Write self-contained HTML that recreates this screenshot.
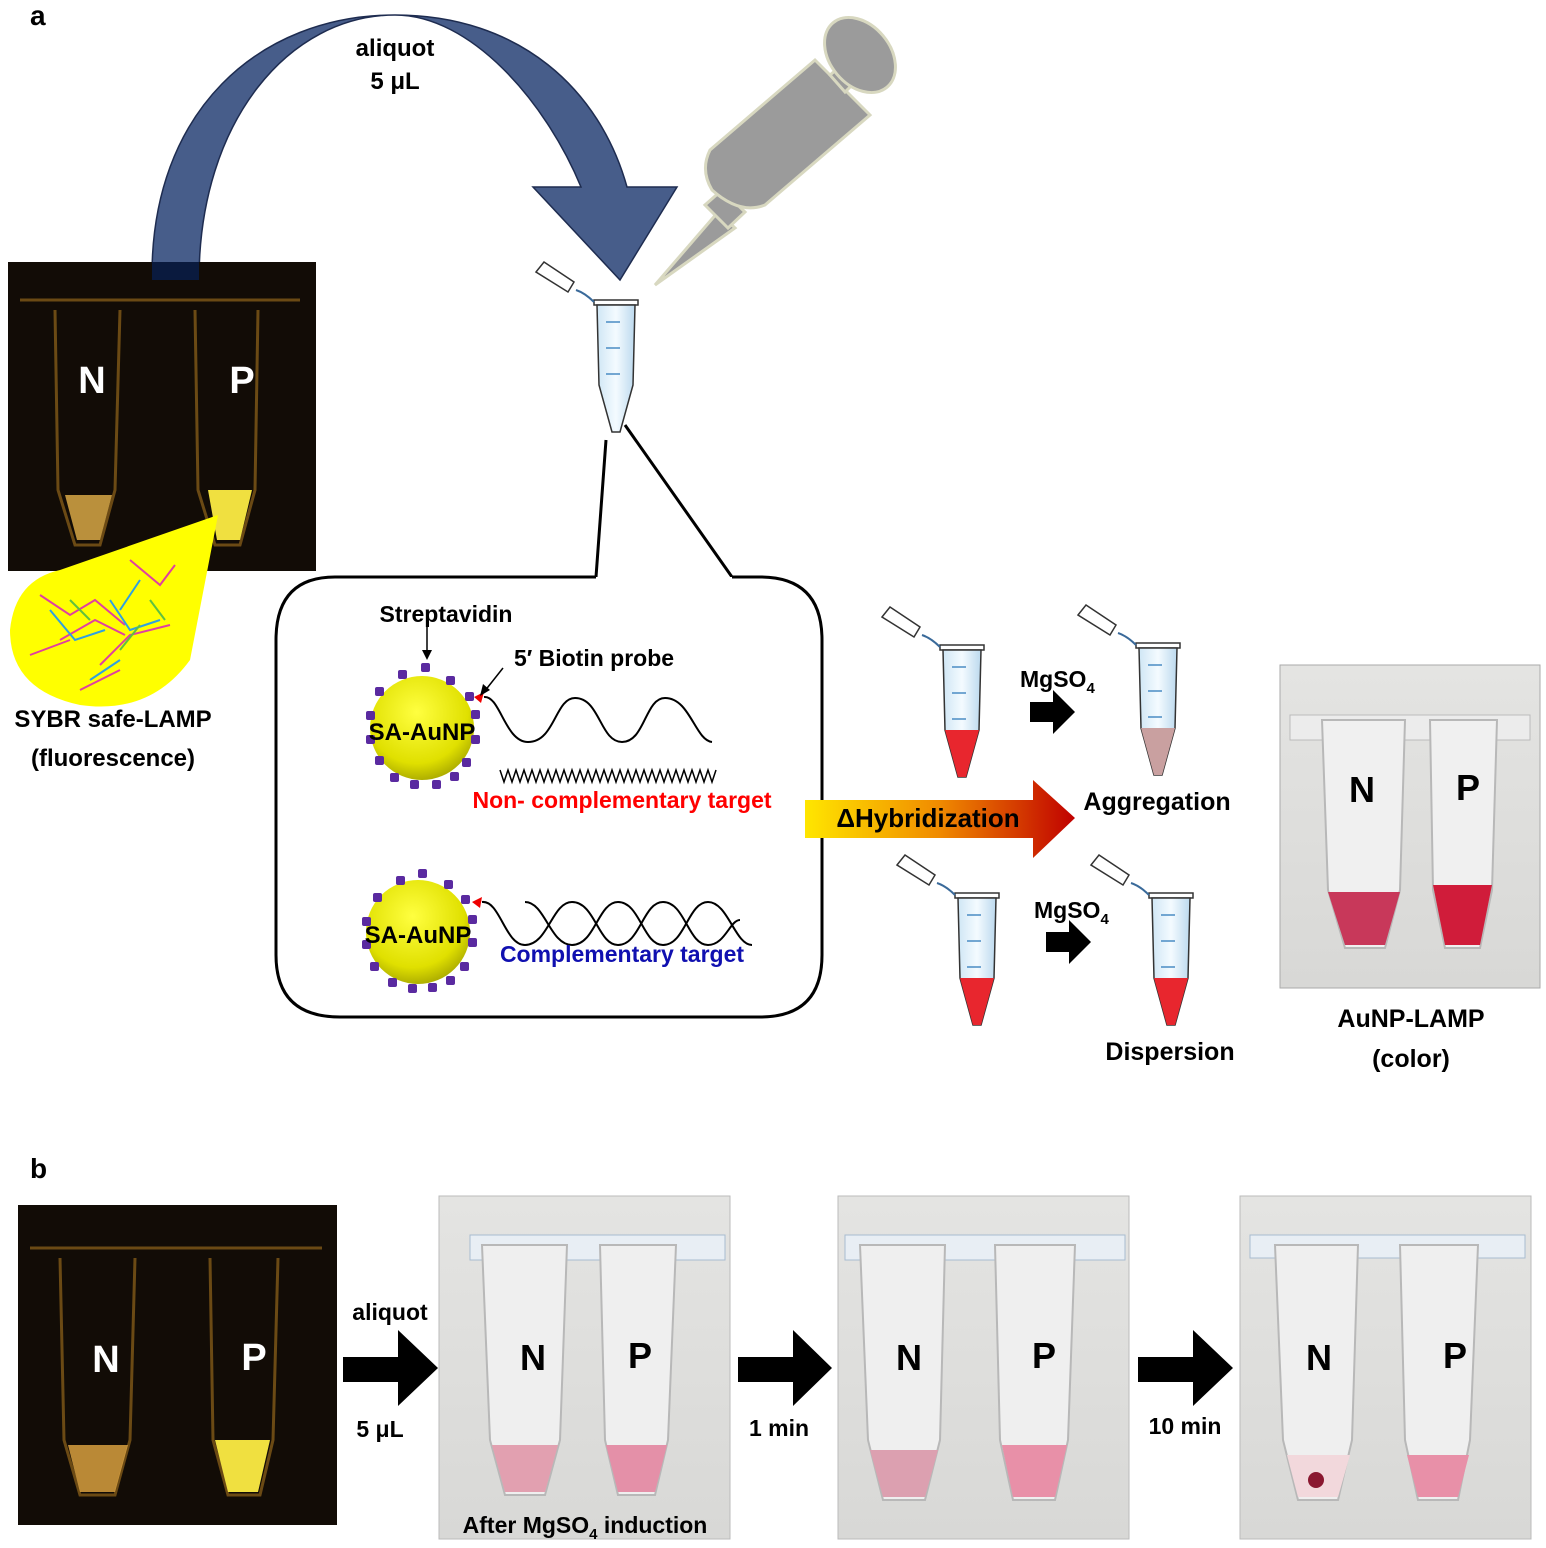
<!DOCTYPE html>
<html><head><meta charset="utf-8"><style>
body{margin:0;background:#fff}
svg{display:block;font-family:"Liberation Sans","DejaVu Sans",sans-serif;font-weight:bold}
</style></head><body>
<svg width="1546" height="1548" viewBox="0 0 1546 1548" xmlns="http://www.w3.org/2000/svg">
<defs>
<linearGradient id="hyb" x1="0" x2="1"><stop offset="0" stop-color="#ffe600"/><stop offset="0.5" stop-color="#f08a00"/><stop offset="1" stop-color="#c00000"/></linearGradient>
<radialGradient id="au" cx="0.45" cy="0.35" r="0.7"><stop offset="0" stop-color="#ffff40"/><stop offset="0.7" stop-color="#e0e000"/><stop offset="1" stop-color="#a0a000"/></radialGradient>
<linearGradient id="tb" x1="0" x2="1"><stop offset="0" stop-color="#cfe6f5"/><stop offset="0.5" stop-color="#f4fbff"/><stop offset="1" stop-color="#bcd9ee"/></linearGradient>
<linearGradient id="ph" x1="0" y1="0" x2="0" y2="1"><stop offset="0" stop-color="#e4e4e2"/><stop offset="1" stop-color="#d8d8d6"/></linearGradient>
<g id="tube">
<path d="M-2,0 L42,0 L42,5 L-2,5 Z" fill="#fff" stroke="#333" stroke-width="1.5"/>
<path d="M1,5 L39,5 L37,85 L24,132 L16,132 L3,85 Z" fill="url(#tb)" stroke="#333" stroke-width="1.5"/>
<path d="M10,22 h14 M10,48 h14 M10,74 h14" stroke="#4a8cc4" stroke-width="1.5"/>
<path d="M-2,2 C-8,-4 -14,-8 -20,-10" stroke="#3a6a9a" stroke-width="2" fill="none"/>
<path d="M-60,-28 L-52,-38 L-22,-18 L-28,-8 Z" fill="#fff" stroke="#333" stroke-width="1.5"/>
</g>
<g id="redtube">
<use href="#tube"/>
<path d="M3,85 L37,85 L24,132 L16,132 Z" fill="#e8262e"/>
</g>
</defs>

<text x="30" y="25" font-size="28">a</text>

<!-- curved arrow -->
<path d="M152,280 C150,110 260,15 395,15 C520,15 600,90 627,187 L677,187 L620,280 L533,187 L581,187 C545,100 470,15 395,15 C290,15 199,120 199,280 Z" fill="#475d8a" stroke="#1e2c50" stroke-width="1.5"/>
<text x="395" y="56" font-size="24" text-anchor="middle">aliquot</text>
<text x="395" y="89" font-size="24" text-anchor="middle">5 μL</text>

<!-- syringe -->
<g fill="#9b9b9b" stroke="#d8d8c0" stroke-width="3">
<path d="M655,285 L718,212 L735,228 Z"/>
<path d="M705,205 L728,228 L745,212 L722,190 Z"/>
<path d="M710,150 L815,60 L870,115 L765,205 Q740,215 712,190 Q700,170 710,150 Z"/>
<path d="M830,75 L848,60 L862,75 L845,92 Z"/>
<ellipse cx="860" cy="55" rx="30" ry="42" transform="rotate(-40 860 55)"/>
</g>

<!-- small tube -->
<g transform="translate(596,300)"><use href="#tube"/></g>

<!-- callout lines -->
<path d="M606,440 L596,577 M625,425 L732,577" stroke="#000" stroke-width="3" fill="none"/>
<path d="M596,577 L335,577 Q276,577 276,640 L276,955 Q276,1017 340,1017 L760,1017 Q822,1017 822,955 L822,640 Q822,577 760,577 L732,577" stroke="#000" stroke-width="3" fill="#fff"/>

<!-- dark photo -->
<rect x="8" y="262" width="308" height="309" fill="#120c06"/>
<rect x="152" y="262" width="47" height="18" fill="#0a1a3e"/>
<g fill="none" stroke="#6b4a14" stroke-width="3">
<path d="M20,300 L160,300 M160,300 L300,300"/>
<path d="M55,310 L58,490 L75,545 L100,545 L115,490 L120,310"/>
<path d="M195,310 L198,490 L215,545 L240,545 L255,490 L258,310"/>
</g>
<path d="M65,495 L112,495 L100,540 L77,540 Z" fill="#e5b24a" opacity="0.8"/>
<path d="M208,490 L252,490 L240,540 L217,540 Z" fill="#f0e040"/>
<text x="92" y="393" font-size="38" fill="#fff" text-anchor="middle">N</text>
<text x="242" y="393" font-size="38" fill="#fff" text-anchor="middle">P</text>

<!-- yellow blob -->
<path d="M218,515 L190,660 Q150,715 80,705 Q10,690 10,630 Q15,580 60,570 Z" fill="#ffff00"/>
<g stroke-width="2" fill="none">
<path d="M40,595 l30,20 l25,-15 l30,25 M60,640 l35,-20 l30,15 M100,665 l30,-30 l40,-10 M80,690 l40,-20 M130,560 l30,25 l15,-20 M30,655 l40,-15" stroke="#e040a0"/>
<path d="M50,610 l25,30 l30,-10 M110,600 l20,30 l30,-10 M140,580 l-20,30 M90,680 l30,-20" stroke="#30a0e0"/>
<path d="M70,600 l20,20 M120,650 l20,-25 M150,600 l15,20" stroke="#60c040"/>
</g>
<text x="113" y="727" font-size="24" text-anchor="middle">SYBR safe-LAMP</text>
<text x="113" y="766" font-size="24" text-anchor="middle">(fluorescence)</text>

<!-- particle 1 -->
<circle cx="422" cy="728" r="52" fill="url(#au)"/>
<g fill="#5a2aa0">
<rect x="421" y="663" width="9" height="9" rx="2"/><rect x="398" y="670" width="9" height="9" rx="2"/><rect x="446" y="676" width="9" height="9" rx="2"/>
<rect x="375" y="687" width="9" height="9" rx="2"/><rect x="465" y="692" width="9" height="9" rx="2"/><rect x="366" y="711" width="9" height="9" rx="2"/>
<rect x="471" y="710" width="9" height="9" rx="2"/><rect x="366" y="735" width="9" height="9" rx="2"/><rect x="471" y="735" width="9" height="9" rx="2"/>
<rect x="375" y="756" width="9" height="9" rx="2"/><rect x="462" y="758" width="9" height="9" rx="2"/><rect x="390" y="773" width="9" height="9" rx="2"/>
<rect x="410" y="780" width="9" height="9" rx="2"/><rect x="432" y="780" width="9" height="9" rx="2"/><rect x="450" y="772" width="9" height="9" rx="2"/>
</g>
<text x="422" y="740" font-size="24" text-anchor="middle">SA-AuNP</text>
<path d="M474,697 L484,692 L481,703 Z" fill="#e00"/>
<path d="M484,697 C500,695 505,742 528,742 C555,742 555,698 575,698 C600,698 600,742 622,742 C645,742 645,698 665,698 C690,698 695,740 712,742" fill="none" stroke="#000" stroke-width="2"/>
<path d="M500,770 l4,12 l4,-12 l4,12 l4,-12 l4,12 l4,-12 l4,12 l4,-12 l4,12 l4,-12 l4,12 l4,-12 l4,12 l4,-12 l4,12 l4,-12 l4,12 l4,-12 l4,12 l4,-12 l4,12 l4,-12 l4,12 l4,-12 l4,12 l4,-12 l4,12 l4,-12 l4,12 l4,-12 l4,12 l4,-12 l4,12 l4,-12 l4,12 l4,-12 l4,12 l4,-12 l4,12 l4,-12 l4,12 l4,-12 l4,12 l4,-12 l4,12 l4,-12 l4,12 l4,-12 l4,12 l4,-12 l4,12 l4,-12 l4,12 l4,-12" fill="none" stroke="#000" stroke-width="1.5"/>
<text x="622" y="808" font-size="23" fill="#f00" text-anchor="middle">Non- complementary target</text>
<text x="446" y="622" font-size="23" text-anchor="middle">Streptavidin</text>
<path d="M427,625 L427,655" stroke="#000" stroke-width="1.5"/><path d="M422,650 L427,660 L432,650 Z"/>
<text x="594" y="666" font-size="23" text-anchor="middle">5′ Biotin probe</text>
<path d="M503,668 L484,692" stroke="#000" stroke-width="1.5"/><path d="M480,696 L483,684 L490,690 Z"/>

<!-- particle 2 -->
<circle cx="418" cy="932" r="52" fill="url(#au)"/>
<g fill="#5a2aa0">
<rect x="418" y="869" width="9" height="9" rx="2"/><rect x="396" y="876" width="9" height="9" rx="2"/><rect x="444" y="880" width="9" height="9" rx="2"/>
<rect x="373" y="893" width="9" height="9" rx="2"/><rect x="461" y="895" width="9" height="9" rx="2"/><rect x="362" y="917" width="9" height="9" rx="2"/>
<rect x="468" y="915" width="9" height="9" rx="2"/><rect x="362" y="940" width="9" height="9" rx="2"/><rect x="468" y="938" width="9" height="9" rx="2"/>
<rect x="370" y="962" width="9" height="9" rx="2"/><rect x="460" y="962" width="9" height="9" rx="2"/><rect x="388" y="978" width="9" height="9" rx="2"/>
<rect x="408" y="984" width="9" height="9" rx="2"/><rect x="428" y="983" width="9" height="9" rx="2"/><rect x="446" y="976" width="9" height="9" rx="2"/>
</g>
<text x="418" y="943" font-size="24" text-anchor="middle">SA-AuNP</text>
<path d="M472,902 L482,897 L480,908 Z" fill="#e00"/>
<path d="M482,902 C500,900 505,945 525,945 C548,945 552,902 572,902 C595,902 598,945 618,945 C640,945 643,902 663,902 C685,902 688,945 708,945 C725,945 730,920 740,920" fill="none" stroke="#000" stroke-width="2"/>
<path d="M525,902 C545,902 550,945 572,945 C595,945 598,902 618,902 C640,902 643,945 663,945 C685,945 688,902 708,902 C728,902 735,945 752,945" fill="none" stroke="#000" stroke-width="2"/>
<text x="622" y="962" font-size="23" fill="#1010b0" text-anchor="middle">Complementary target</text>

<!-- hybridization arrow -->
<path d="M805,800 L1033,800 L1033,780 L1075,818 L1033,858 L1033,838 L805,838 Z" fill="url(#hyb)"/>
<text x="928" y="827" font-size="26" text-anchor="middle">ΔHybridization</text>

<!-- right tubes -->
<g transform="translate(942,645)"><use href="#redtube"/></g>
<g transform="translate(1138,643)"><use href="#tube"/><path d="M3,85 L37,85 L24,132 L16,132 Z" fill="#c9a0a0"/></g>
<g transform="translate(957,893)"><use href="#redtube"/></g>
<g transform="translate(1151,893)"><use href="#redtube"/></g>
<text x="1020" y="687" font-size="23">MgSO<tspan font-size="15" dy="6">4</tspan></text>
<path d="M1030,702 L1053,702 L1053,690 L1075,712 L1053,734 L1053,722 L1030,722 Z"/>
<text x="1034" y="918" font-size="23">MgSO<tspan font-size="15" dy="6">4</tspan></text>
<path d="M1046,932 L1069,932 L1069,920 L1091,942 L1069,964 L1069,952 L1046,952 Z"/>
<text x="1157" y="810" font-size="25" text-anchor="middle">Aggregation</text>
<text x="1170" y="1060" font-size="25" text-anchor="middle">Dispersion</text>

<!-- AuNP-LAMP photo -->
<rect x="1280" y="665" width="260" height="323" fill="url(#ph)" stroke="#aaa"/>
<path d="M1290,715 L1530,715 L1530,740 L1290,740 Z" fill="#ececec" stroke="#bbb"/>
<g fill="#f0f0f0" stroke="#b8b8b8" stroke-width="2">
<path d="M1322,720 L1328,890 L1345,948 L1385,948 L1400,890 L1405,720 Z"/>
<path d="M1430,720 L1433,890 L1445,948 L1480,948 L1492,890 L1497,720 Z"/>
</g>
<path d="M1328,892 L1400,892 L1385,945 L1345,945 Z" fill="#c8385a"/>
<path d="M1433,885 L1492,885 L1480,945 L1445,945 Z" fill="#d01c3a"/>
<text x="1362" y="802" font-size="36" text-anchor="middle">N</text>
<text x="1468" y="800" font-size="36" text-anchor="middle">P</text>
<text x="1411" y="1027" font-size="25" text-anchor="middle">AuNP-LAMP</text>
<text x="1411" y="1067" font-size="25" text-anchor="middle">(color)</text>

<!-- part b -->
<text x="30" y="1178" font-size="28">b</text>
<rect x="18" y="1205" width="319" height="320" fill="#120c06"/>
<g fill="none" stroke="#6b4a14" stroke-width="3">
<path d="M30,1248 L322,1248"/>
<path d="M60,1258 L64,1440 L80,1495 L115,1495 L130,1440 L135,1258"/>
<path d="M210,1258 L213,1440 L228,1495 L260,1495 L273,1440 L278,1258"/>
</g>
<path d="M68,1445 L128,1445 L115,1492 L80,1492 Z" fill="#d8a040" opacity="0.85"/>
<path d="M215,1440 L270,1440 L258,1492 L228,1492 Z" fill="#f0e040"/>
<text x="106" y="1372" font-size="38" fill="#fff" text-anchor="middle">N</text>
<text x="254" y="1370" font-size="38" fill="#fff" text-anchor="middle">P</text>

<text x="390" y="1320" font-size="23" text-anchor="middle">aliquot</text>
<path d="M343,1357 L398,1357 L398,1330 L438,1368 L398,1406 L398,1382 L343,1382 Z"/>
<text x="380" y="1437" font-size="23" text-anchor="middle">5 μL</text>
<path d="M738,1357 L793,1357 L793,1330 L832,1368 L793,1406 L793,1382 L738,1382 Z"/>
<text x="779" y="1436" font-size="23" text-anchor="middle">1 min</text>
<path d="M1138,1357 L1193,1357 L1193,1330 L1233,1368 L1193,1406 L1193,1382 L1138,1382 Z"/>
<text x="1185" y="1434" font-size="23" text-anchor="middle">10 min</text>

<rect x="439" y="1196" width="291" height="343" fill="url(#ph)" stroke="#bbb"/>
<path d="M470,1235 L725,1235 L725,1260 L470,1260 Z" fill="#e8eef4" stroke="#a8bcd0"/>
<g fill="#efefef" stroke="#b8b8b8" stroke-width="2">
<path d="M482,1245 L490,1440 L505,1495 L545,1495 L560,1440 L567,1245 Z"/>
<path d="M600,1245 L605,1440 L618,1495 L655,1495 L668,1440 L676,1245 Z"/>
</g>
<path d="M492,1445 L558,1445 L545,1492 L505,1492 Z" fill="#e2a0b0"/>
<path d="M606,1445 L667,1445 L655,1492 L618,1492 Z" fill="#e490a8"/>
<text x="533" y="1370" font-size="36" text-anchor="middle">N</text>
<text x="640" y="1368" font-size="36" text-anchor="middle">P</text>
<text x="585" y="1533" font-size="23" text-anchor="middle">After MgSO<tspan font-size="15" dy="6">4</tspan><tspan dy="-6"> induction</tspan></text>

<rect x="838" y="1196" width="291" height="343" fill="url(#ph)" stroke="#bbb"/>
<path d="M845,1235 L1125,1235 L1125,1260 L845,1260 Z" fill="#e8eef4" stroke="#a8bcd0"/>
<g fill="#efefef" stroke="#b8b8b8" stroke-width="2">
<path d="M860,1245 L868,1440 L883,1500 L925,1500 L940,1440 L945,1245 Z"/>
<path d="M995,1245 L1000,1440 L1013,1500 L1055,1500 L1068,1440 L1075,1245 Z"/>
</g>
<path d="M870,1450 L938,1450 L925,1497 L883,1497 Z" fill="#dca0b0"/>
<path d="M1002,1445 L1067,1445 L1055,1497 L1013,1497 Z" fill="#e890a8"/>
<text x="909" y="1370" font-size="36" text-anchor="middle">N</text>
<text x="1044" y="1368" font-size="36" text-anchor="middle">P</text>

<rect x="1240" y="1196" width="291" height="343" fill="url(#ph)" stroke="#bbb"/>
<path d="M1250,1235 L1525,1235 L1525,1258 L1250,1258 Z" fill="#e8eef4" stroke="#a8bcd0"/>
<g fill="#efefef" stroke="#b8b8b8" stroke-width="2">
<path d="M1275,1245 L1283,1440 L1298,1500 L1338,1500 L1352,1440 L1358,1245 Z"/>
<path d="M1400,1245 L1405,1440 L1418,1500 L1458,1500 L1470,1440 L1478,1245 Z"/>
</g>
<path d="M1287,1455 L1350,1455 L1338,1497 L1298,1497 Z" fill="#f2d8dc"/>
<circle cx="1316" cy="1480" r="8" fill="#8a1830"/>
<path d="M1407,1455 L1469,1455 L1458,1497 L1418,1497 Z" fill="#e890a8"/>
<text x="1319" y="1370" font-size="36" text-anchor="middle">N</text>
<text x="1455" y="1368" font-size="36" text-anchor="middle">P</text>
</svg>
</body></html>
